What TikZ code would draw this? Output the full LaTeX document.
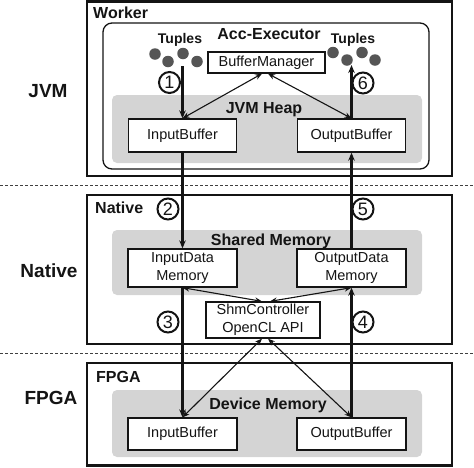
\documentclass[tikz,border=0pt]{standalone}
\usepackage{fontspec}
\setmainfont{Liberation Sans}
\usetikzlibrary{arrows.meta}
\definecolor{memgray}{RGB}{212,212,212}
\definecolor{dotgray}{RGB}{85,85,85}
\definecolor{inkc}{RGB}{20,20,20}
\begin{document}
\begin{tikzpicture}[x=1pt,y=-1pt,
  outerbox/.style={draw=inkc,line width=2.4pt},
  membox/.style={fill=memgray,rounded corners=5pt},
  buf/.style={draw=inkc,line width=1.3pt,fill=white,align=center,inner sep=0pt,
    font=\fontsize{14.5}{18}\selectfont,text=inkc},
  title/.style={font=\bfseries\fontsize{16}{18}\selectfont,text=inkc,inner sep=0pt},
  side/.style={font=\bfseries\fontsize{19}{20}\selectfont,text=inkc,inner sep=0pt},
  tup/.style={font=\bfseries\fontsize{14}{15}\selectfont,text=inkc,inner sep=0pt},
  num/.style={circle,draw=inkc,line width=2pt,minimum size=21pt,inner sep=0pt,
    font=\fontsize{18}{18}\selectfont,text=inkc},
  dot/.style={circle,fill=dotgray,minimum size=11.5pt,inner sep=0pt},
  flow/.style={draw=inkc,line width=2.2pt,-{Stealth[length=8pt,width=6.5pt]}},
  ctrl/.style={draw=inkc,line width=1.1pt,{Stealth[length=7pt,width=5.5pt]}-{Stealth[length=7pt,width=5.5pt]}},
  sep/.style={draw=black!75,line width=1pt,dash pattern=on 3pt off 2pt}
]
\useasboundingbox (0,0) rectangle (474,467);

% separators
\draw[sep] (0,185) -- (474,185);
\draw[sep] (0,353) -- (474,353);

% side labels
\node[side,anchor=base] (lj) at (48,97) {JVM};
\node[side,anchor=base] (ln) at (49,277) {Native};
\node[side,anchor=base] (lf) at (51,404) {FPGA};

% ---------- JVM ----------
\draw[outerbox] (87,1.5) rectangle (452,176);
\node[title,anchor=base west] (worker) at (93,18) {Worker};
\draw[draw=inkc,line width=1.3pt,rounded corners=9pt] (103,23) rectangle (429,169);
\node[title,anchor=base] (acc) at (269,39) {Acc-Executor};
\fill[membox] (112,95) rectangle (422,163);
\node[title,anchor=base] (heap) at (264,113) {JVM Heap};

\node[buf,minimum width=117pt,minimum height=21pt] (bm) at (266.5,62.5) {BufferManager};
\node[buf,minimum width=108pt,minimum height=33pt] (jin) at (182.5,135.5) {InputBuffer};
\node[buf,minimum width=108pt,minimum height=33pt] (jout) at (351.5,135.5) {OutputBuffer};

\node[tup,anchor=base] (tl) at (180,43) {Tuples};
\node[tup,anchor=base] (tr) at (353,43) {Tuples};
\node[dot] (d1) at (155,54) {};
\node[dot] (d2) at (168,61.5) {};
\node[dot] (d3) at (183,53.5) {};
\node[dot] (d4) at (197,61.5) {};
\node[dot] (d5) at (333,52.5) {};
\node[dot] (d6) at (347,60) {};
\node[dot] (d7) at (362,52.5) {};
\node[dot] (d8) at (375,60) {};

\coordinate (t1) at (182.5,66);
\coordinate (t6) at (351.5,65);

\node[num] (n1) at (169.5,82.5) {1};
\node[num] (n6) at (363,83) {6};

% ---------- Native ----------
\draw[outerbox] (87,195) rectangle (452,344);
\node[title,anchor=base west] (native) at (95,213) {Native};
\fill[membox] (112,230) rectangle (422,295);
\node[title,anchor=base] (shared) at (271,245) {Shared Memory};

\node[buf,minimum width=109pt,minimum height=38pt] (idm) at (182.5,268) {InputData\\Memory};
\node[buf,minimum width=109pt,minimum height=38pt] (odm) at (351.5,268) {OutputData\\Memory};
\node[buf,minimum width=114pt,minimum height=36pt] (shm) at (263,320) {ShmController\\OpenCL API};

\node[num] (n2) at (168,209) {2};
\node[num] (n5) at (363,209) {5};
\node[num] (n3) at (168,322) {3};
\node[num] (n4) at (363,322) {4};

% ---------- FPGA ----------
\draw[outerbox] (87,363) rectangle (452,465.5);
\node[title,anchor=base west] (fpga) at (96,382) {FPGA};
\fill[membox] (112,390) rectangle (422,457);
\node[title,anchor=base] (dev) at (268,409) {Device Memory};

\node[buf,minimum width=109pt,minimum height=32pt] (fin) at (182.5,434) {InputBuffer};
\node[buf,minimum width=109pt,minimum height=32pt] (fout) at (351.5,434) {OutputBuffer};

% ---------- connectors ----------
\draw[flow] (t1) -- (jin.north);
\draw[flow] (jout.north) -- (t6);
\draw[flow] (jin.south) -- (idm.north);
\draw[flow] (odm.north) -- (jout.south);
\draw[flow] (idm.south) -- (fin.north);
\draw[flow] (fout.north) -- (odm.south);

\draw[ctrl] ([xshift=-4.5pt]bm.south) -- (jin.north);
\draw[ctrl] ([xshift=1.5pt]bm.south) -- (jout.north);
\draw[ctrl] (idm.south) -- ([xshift=-1pt]shm.north);
\draw[ctrl] (odm.south) -- ([xshift=7pt]shm.north);
\draw[ctrl] ([xshift=-1pt]shm.south) -- (fin.north);
\draw[ctrl] ([xshift=5pt]shm.south) -- (fout.north);
\end{tikzpicture}
\end{document}
